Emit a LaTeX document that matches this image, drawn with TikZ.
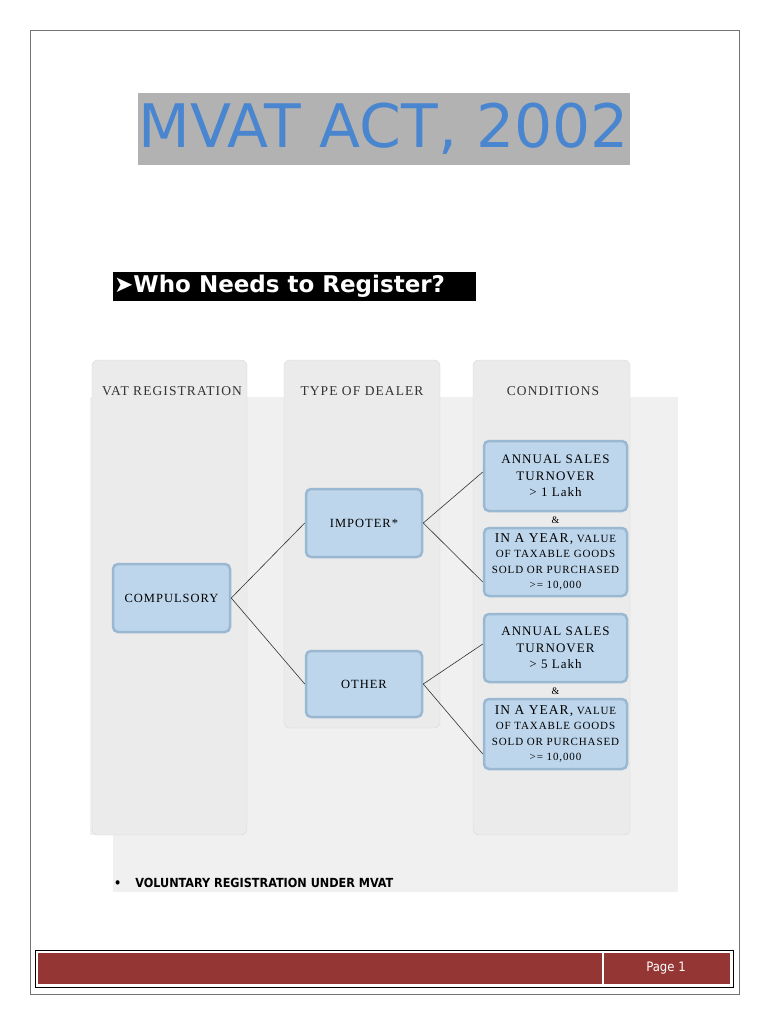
\documentclass[tikz,border=0pt]{standalone}
\usepackage{fontspec}
\usetikzlibrary{calc}
\setmainfont{Liberation Serif}[LetterSpace=8]
\newfontfamily\dvs{DejaVu Sans}
\newfontfamily\dvsc{DejaVu Sans Condensed}
\definecolor{titleblue}{HTML}{4A86D0}
\definecolor{boxfill}{HTML}{BDD6EC}
\definecolor{boxedge}{HTML}{9BB8D3}
\definecolor{bg}{HTML}{F0F0F0}
\definecolor{colbg}{HTML}{EBEBEB}
\definecolor{barred}{HTML}{943634}
\tikzset{
  cbox/.style={draw=boxedge,line width=2.5pt,fill=boxfill,rounded corners=5pt,inner sep=0pt,align=center,font=\fontsize{12.5}{15}\selectfont},
  colbox/.style={fill=colbg,draw=white!85!black,rounded corners=6pt},
  hdr/.style={font=\fontsize{13.5}{15}\selectfont,text=black!80},
  link/.style={draw=black!80,line width=0.6pt}
}
\begin{document}
\begin{tikzpicture}[x=1pt,y=-1pt]
\useasboundingbox (0,0) rectangle (768,1024);
\fill[white] (0,0) rectangle (768,1024);
\draw[black!55] (30,30) rectangle (739,994);
% title
\fill[black!30] (138,93) rectangle (630,165);
\node[text=titleblue,font=\dvs\fontsize{60}{64}\selectfont,inner sep=0pt] (title) at (384,129) {MVAT ACT, 2002};
% subtitle
\fill[black] (113,272) rectangle (476,301);
\node[text=white,font=\dvs\bfseries\fontsize{23}{26}\selectfont,inner sep=0pt,anchor=west] (sub) at (114,286.5) {➤Who Needs to Register?};
% background
\fill[bg] (90,397) rectangle (678,835);
\fill[bg] (113,835) rectangle (678,892);
\path[colbox] (92,360) rectangle (247,835);
\path[colbox] (284,360) rectangle (440,728);
\path[colbox] (473,360) rectangle (630,835);
\node[hdr] (h1) at (172,391) {VAT REGISTRATION};
\node[hdr] (h2) at (362,391) {TYPE OF DEALER};
\node[hdr] (h3) at (553,391) {CONDITIONS};
% boxes
\node[cbox,minimum width=117pt,minimum height=68pt] (comp) at (171.5,598) {COMPULSORY};
\node[cbox,minimum width=116pt,minimum height=68pt] (imp) at (364,523) {IMPOTER*};
\node[cbox,minimum width=116pt,minimum height=66pt] (oth) at (364,684) {OTHER};
\node[cbox,minimum width=143pt,minimum height=70pt,font=\fontsize{13}{16.5}\selectfont] (c1) at (555.5,476) {ANNUAL SALES\\TURNOVER\\> 1 Lakh};
\node[cbox,minimum width=143pt,minimum height=68pt,font=\fontsize{11}{15.5}\selectfont] (c2) at (555.5,562) {{\fontsize{13.5}{15}\selectfont IN A YEAR,} VALUE\\OF TAXABLE GOODS\\SOLD OR PURCHASED\\>= 10,000};
\node[cbox,minimum width=143pt,minimum height=68pt,font=\fontsize{13}{16.5}\selectfont] (c3) at (555.5,648) {ANNUAL SALES\\TURNOVER\\> 5 Lakh};
\node[cbox,minimum width=143pt,minimum height=70pt,font=\fontsize{11}{15.5}\selectfont] (c4) at (555.5,734) {{\fontsize{13.5}{15}\selectfont IN A YEAR,} VALUE\\OF TAXABLE GOODS\\SOLD OR PURCHASED\\>= 10,000};
\node[font=\fontsize{10}{12}\selectfont] (amp1) at (555.5,520) {\&};
\node[font=\fontsize{10}{12}\selectfont] (amp2) at (555.5,691) {\&};
% links
\draw[link] (comp.east) -- (imp.west);
\draw[link] (comp.east) -- (oth.west);
\draw[link] (imp.east) -- ($(c1.west)+(0,-4)$);
\draw[link] (imp.east) -- ($(c2.west)+(0,20)$);
\draw[link] (oth.east) -- ($(c3.west)+(0,-4)$);
\draw[link] (oth.east) -- ($(c4.west)+(0,20)$);
% bullet
\node[anchor=west,font=\dvsc\bfseries\fontsize{12.5}{14}\selectfont,inner sep=0pt] (vol) at (114,883) {•\hspace{14pt}VOLUNTARY REGISTRATION UNDER MVAT};
% footer
\draw[black,line width=0.8pt] (35,950) rectangle (733,987);
\fill[barred] (38,953) rectangle (602,984);
\fill[barred] (604,953) rectangle (730,984);
\node[text=white,font=\dvsc\fontsize{13}{15}\selectfont] (pg) at (666,968) {Page 1};
\end{tikzpicture}
\end{document}
